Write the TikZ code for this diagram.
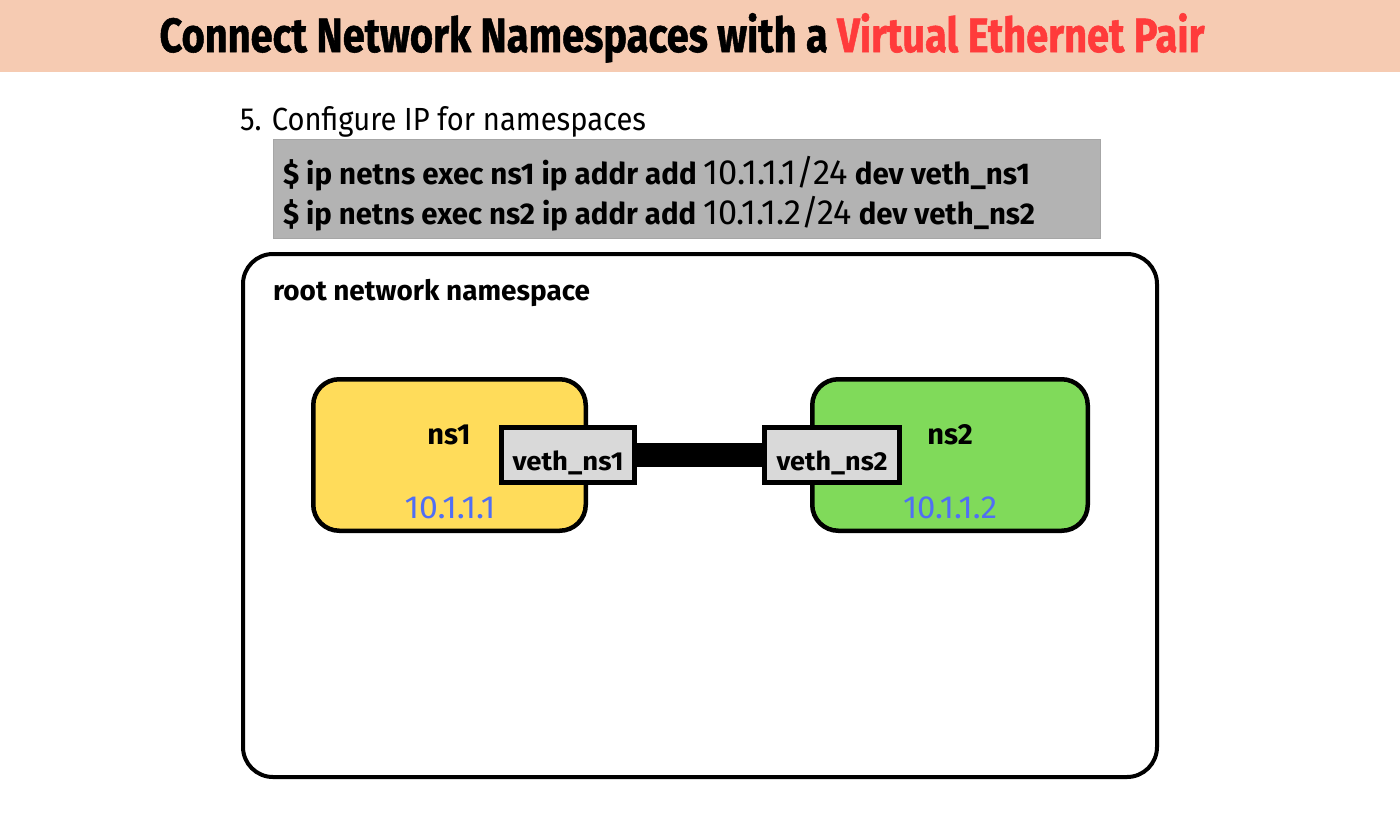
\documentclass[tikz,border=0pt]{standalone}
\usepackage{graphicx}
\usepackage{fontspec}
\setmainfont{Fira Sans}
\newfontfamily\titlefont{Fira Sans}[BoldFeatures={FakeBold=1.2}]
\definecolor{band}{HTML}{F6CBB2}
\definecolor{titlered}{HTML}{FF3B3B}
\definecolor{cmdgray}{HTML}{B3B3B3}
\definecolor{cmdedge}{HTML}{A6A6A6}
\definecolor{nsyellow}{HTML}{FFDC5A}
\definecolor{nsgreen}{HTML}{80DA5A}
\definecolor{vethgray}{HTML}{D9D9D9}
\definecolor{ipblue}{HTML}{506EF5}
\newcommand\fitw[2]{\resizebox{#1}{\height}{#2}}
\tikzset{
  txt/.style={inner sep=0pt, outer sep=0pt, anchor=base west},
  txtc/.style={inner sep=0pt, outer sep=0pt, anchor=base},
  nsbox/.style={draw=black, line width=4.5pt, rounded corners=26pt, inner sep=0pt, outer sep=0pt, anchor=north west},
  vethbox/.style={draw=black, line width=5pt, fill=vethgray, inner sep=0pt, outer sep=0pt, minimum height=55pt, anchor=north west},
  label/.style={txtc, font=\bfseries\fontsize{29}{30}\selectfont},
  iplabel/.style={txtc, text=ipblue, font=\fontsize{32}{34}\selectfont},
}
\begin{document}
\begin{tikzpicture}[x=1pt, y=-1pt]
\useasboundingbox (0,0) rectangle (1400,817);
% title band
\fill[band] (0,0) rectangle (1400,72);
\node[txtc, font=\titlefont\bfseries\fontsize{48}{50}\selectfont] (title) at (682,52)
  {\fitw{1045pt}{Connect Network Namespaces with a \textcolor{titlered}{Virtual Ethernet Pair}}};
% step heading
\node[txt, font=\fontsize{32}{34}\selectfont] (step) at (240,130)
  {\fitw{406pt}{5. Configure IP for namespaces}};
% command box
\node[draw=cmdedge, line width=1pt, fill=cmdgray, minimum width=827pt, minimum height=99pt, inner sep=0pt, outer sep=0pt, anchor=north west] (cmdbox) at (273,139) {};
\node[txt, font=\bfseries\fontsize{30}{32}\selectfont] (cmd1) at (283,184)
  {\fitw{747pt}{\$ ip netns exec ns1 ip addr add {\mdseries\fontsize{35}{36}\selectfont 10.1.1.1/24} dev veth\_ns1}};
\node[txt, font=\bfseries\fontsize{30}{32}\selectfont] (cmd2) at (283,224)
  {\fitw{752pt}{\$ ip netns exec ns2 ip addr add {\mdseries\fontsize{35}{36}\selectfont 10.1.1.2/24} dev veth\_ns2}};
% root namespace
\node[draw=black, line width=4pt, rounded corners=30pt, minimum width=914pt, minimum height=523pt, inner sep=0pt, outer sep=0pt, anchor=north west] (root) at (243,254) {};
\node[txt, font=\bfseries\fontsize{28}{30}\selectfont] (rootlbl) at (273,300)
  {\fitw{317pt}{root network namespace}};
% namespaces
\node[nsbox, fill=nsyellow, minimum width=272.5pt, minimum height=151.5pt] (ns1) at (313.25,379.25) {};
\node[nsbox, fill=nsgreen, minimum width=275.5pt, minimum height=151.5pt] (ns2) at (812.25,379.25) {};
\node[label] (ns1lbl) at (449,444) {ns1};
\node[label] (ns2lbl) at (950,444) {ns2};
\node[iplabel] (ip1) at (450,518) {\fitw{91pt}{10.1.1.1}};
\node[iplabel] (ip2) at (950,518) {\fitw{94pt}{10.1.1.2}};
% veth pair
\node[vethbox, minimum width=133pt] (veth1) at (501.5,427.5) {};
\node[vethbox, minimum width=135pt] (veth2) at (764.5,427.5) {};
\node[txtc, font=\bfseries\fontsize{26}{28}\selectfont] (v1lbl) at (568,470) {\fitw{111pt}{veth\_ns1}};
\node[txtc, font=\bfseries\fontsize{26}{28}\selectfont] (v2lbl) at (832,470) {\fitw{111pt}{veth\_ns2}};
\draw[line width=24pt] (veth1.east) -- (veth2.west);
\end{tikzpicture}
\end{document}
